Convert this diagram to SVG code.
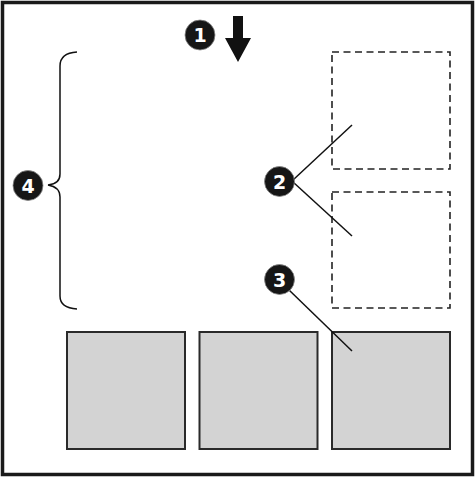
<svg xmlns="http://www.w3.org/2000/svg" width="476" height="478" viewBox="0 0 476 478">
<style>
.frame{fill:#fff;stroke:#1a1a1a;stroke-width:3.5}
.sheet{fill:#d3d3d3;stroke:#2a2a2a;stroke-width:2}
.dash{fill:none;stroke:#222;stroke-width:1.6;stroke-dasharray:7,4.5}
.lead{fill:none;stroke:#111;stroke-width:1.5}
.badge{fill:#161616;stroke:#888;stroke-width:0.8}
.num{fill:#fff;font-family:"DejaVu Sans",sans-serif;font-weight:bold;font-size:19px;text-anchor:middle}
</style>
<rect class="frame" x="2.5" y="2.5" width="470" height="472"/>
<g id="slot1"><rect class="dash" x="332" y="52" width="118" height="117"/></g>
<g id="slot2"><rect class="dash" x="332" y="192" width="118" height="116"/></g>
<g id="sheetA"><rect class="sheet" x="67" y="332" width="118" height="117"/></g>
<g id="sheetB"><rect class="sheet" x="199.5" y="332" width="118" height="117"/></g>
<g id="sheetC"><rect class="sheet" x="332" y="332" width="118" height="117"/></g>
<g id="connectors">
<path class="lead" d="M293,180 L352,125"/>
<path class="lead" d="M293,182 L352,236"/>
<path class="lead" d="M289,290 L352,351"/>
<path class="lead" d="M77,52 Q60,53 60,66 L60,174 Q60,184 48,185 Q60,187 60,197 L60,296 Q60,308 77,309" stroke-width="2.2"/>
</g>
<g id="arrow"><polygon fill="#111" points="233,16 243,16 243,38 251,38 238,62 225,38 233,38"/></g>
<g id="callout1"><circle class="badge" cx="200" cy="35" r="15"/><text class="num" x="200" y="42">1</text></g>
<g id="callout2"><circle class="badge" cx="279.5" cy="181.5" r="15"/><text class="num" x="279.5" y="188.5">2</text></g>
<g id="callout3"><circle class="badge" cx="279.5" cy="279.5" r="15"/><text class="num" x="279.5" y="286.5">3</text></g>
<g id="callout4"><circle class="badge" cx="28" cy="185.5" r="15"/><text class="num" x="28" y="192.5">4</text></g>
</svg>
